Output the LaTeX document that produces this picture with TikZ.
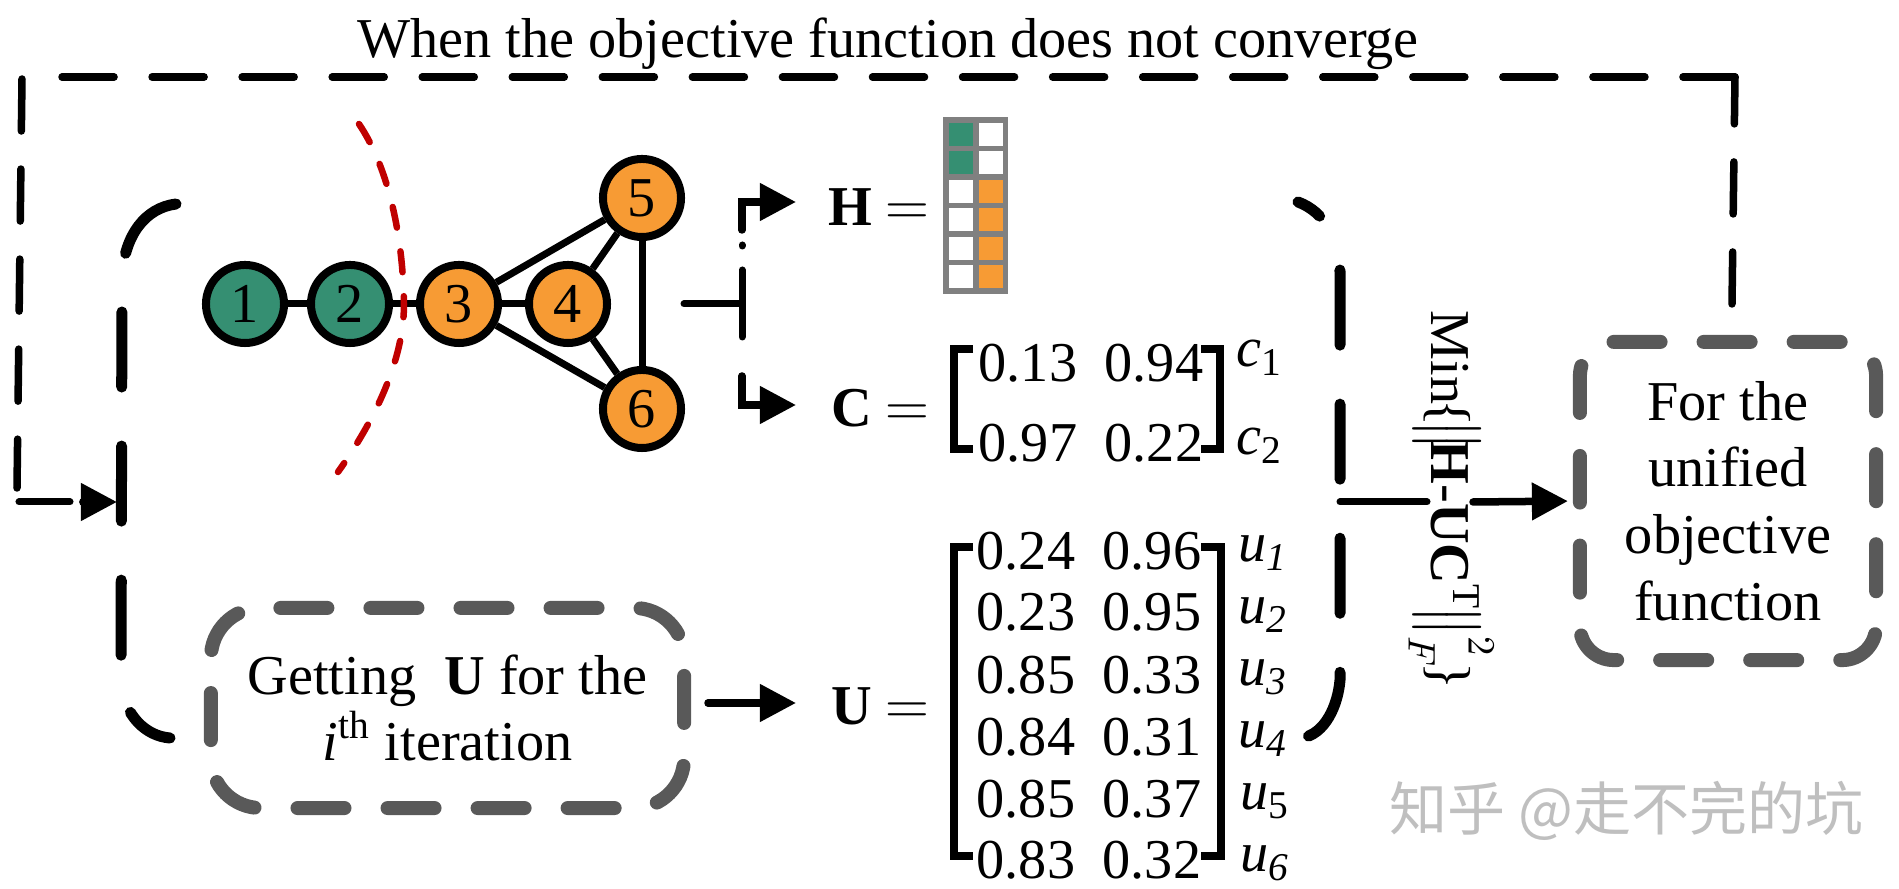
\documentclass[tikz,border=0pt]{standalone}
\usepackage{xcolor}
\usepackage{amsmath,amsfonts,amssymb}
\usepackage{fontspec}
\setmainfont{Liberation Serif}
\newfontfamily\cjkfont{Noto Sans CJK SC}
\usetikzlibrary{arrows.meta}
\definecolor{nodegreen}{HTML}{358F72}
\definecolor{nodeorange}{HTML}{F79B34}
\definecolor{boxgray}{HTML}{595959}
\definecolor{cutred}{HTML}{C00000}
\tikzset{
  every node/.style={font=\fontsize{16}{19}\selectfont},
  vertexgreen/.style={circle, draw, line width=0.08cm, fill=nodegreen, minimum size=0.78cm, inner sep=0pt},
  vertexorange/.style={circle, draw, line width=0.08cm, fill=nodeorange, minimum size=0.78cm, inner sep=0pt},
  edgeline/.style={line width=0.07cm},
  solidarrow/.style={line width=0.075cm, line cap=round, -{Triangle[length=0.36cm, width=0.36cm]}},
  plainline/.style={line width=0.07cm, line cap=round},
  loopline/.style={line width=0.075cm, line cap=round, dash pattern=on 0.52cm off 0.38cm},
  bigline/.style={line width=0.11cm, line cap=round, dash pattern=on 0.75cm off 0.59cm},
  cutline/.style={line width=0.065cm, line cap=round, color=cutred, dash pattern=on 0.21cm off 0.24cm},
  grayblock/.style={align=center, inner sep=0pt, outer sep=0pt},
  grayline/.style={draw=boxgray, line width=0.14cm, line cap=round, dash pattern=on 0.47cm off 0.43cm},
  bracketline/.style={line width=0.075cm, line join=miter},
  hcell/.style={draw=gray, line width=0.055cm, minimum width=0.295cm, minimum height=0.285cm, inner sep=0pt, fill=white},
}
\begin{document}
\begin{tikzpicture}[x=0.01cm, y=-0.01cm]
  \useasboundingbox (0,0) rectangle (1899,889);

  % Define the vertices
  \node[vertexgreen] (v1) at (245,304) {1};
  \node[vertexgreen] (v2) at (350,304) {2};
  \node[vertexorange] (v3) at (459,304) {3};
  \node[vertexorange] (v4) at (568,304) {4};
  \node[vertexorange] (v5) at (642,198) {5};
  \node[vertexorange] (v6) at (642,409) {6};

  % Draw the edges
  \draw[edgeline] (v1) -- (v2);
  \draw[edgeline] (v2) -- (v3);
  \draw[edgeline] (v3) -- (v4);
  \draw[edgeline] (v3) -- (v5);
  \draw[edgeline] (v3) -- (v6);
  \draw[edgeline] (v4) -- (v5);
  \draw[edgeline] (v4) -- (v6);
  \draw[edgeline] (v5) -- (v6);

  % Draw the cut
  \draw[cutline] (359,124) .. controls (390,170) and (403,240) .. (404,304) .. controls (404,360) and (375,420) .. (338,472);

  % Title and labels
  \node (title) at (888,44) {When the objective function does not converge};
  \node[anchor=east] (heq) at (942,207) {\textbf{H} $=$};
  \node[anchor=east] (ceq) at (942,408) {\textbf{C} $=$};
  \node[anchor=east] (ueq) at (942,706) {\textbf{U} $=$};

  % H grid
  \node[hcell, fill=nodegreen] (h11) at (961,134.5) {};
  \node[hcell] (h12) at (990.5,134.5) {};
  \node[hcell, fill=nodegreen] (h21) at (961,163) {};
  \node[hcell] (h22) at (990.5,163) {};
  \node[hcell] (h31) at (961,191.5) {};
  \node[hcell, fill=nodeorange] (h32) at (990.5,191.5) {};
  \node[hcell] (h41) at (961,220) {};
  \node[hcell, fill=nodeorange] (h42) at (990.5,220) {};
  \node[hcell] (h51) at (961,248.5) {};
  \node[hcell, fill=nodeorange] (h52) at (990.5,248.5) {};
  \node[hcell] (h61) at (961,277) {};
  \node[hcell, fill=nodeorange] (h62) at (990.5,277) {};

  % C matrix
  \node (c11) at (1028,363) {0.13};
  \node (c12) at (1154,363) {0.94};
  \node (c21) at (1028,443) {0.97};
  \node (c22) at (1154,443) {0.22};
  \node (c1) at (1260,358) {\textit{c}\textsubscript{1}};
  \node (c2) at (1260,446) {\textit{c}\textsubscript{2}};
  \draw[bracketline] (973,349) -- (954,349) -- (954,449) -- (973,449);
  \draw[bracketline] (1201,349) -- (1220,349) -- (1220,449) -- (1201,449);

  % U matrix
  \node (u11) at (1026,551) {0.24};
  \node (u12) at (1152,551) {0.96};
  \node (u21) at (1026,612) {0.23};
  \node (u22) at (1152,612) {0.95};
  \node (u31) at (1026,675) {0.85};
  \node (u32) at (1152,675) {0.33};
  \node (u41) at (1026,737) {0.84};
  \node (u42) at (1152,737) {0.31};
  \node (u51) at (1026,799) {0.85};
  \node (u52) at (1152,799) {0.37};
  \node (u61) at (1026,860) {0.83};
  \node (u62) at (1152,860) {0.32};
  \node (u1) at (1263,553) {\textit{u}\textsubscript{\textit{1}}};
  \node (u2) at (1263,615) {\textit{u}\textsubscript{\textit{2}}};
  \node (u3) at (1263,677) {\textit{u}\textsubscript{\textit{3}}};
  \node (u4) at (1263,739) {\textit{u}\textsubscript{\textit{4}}};
  \node (u5) at (1265,801) {\textit{u}\textsubscript{5}};
  \node (u6) at (1265,863) {\textit{u}\textsubscript{\textit{6}}};
  \draw[bracketline] (973,547) -- (954,547) -- (954,856) -- (973,856);
  \draw[bracketline] (1201,547) -- (1221,547) -- (1221,856) -- (1201,856);

  % Gray boxes
  \node[grayblock, minimum width=4.73cm, minimum height=2.0cm] (getu) at (447.5,708) {Getting \ \textbf{U} for the\\\textit{i}\textsuperscript{th} iteration};
  \node[grayblock, minimum width=2.96cm, minimum height=3.18cm] (unified) at (1728,501) {For the\\unified\\objective\\function};
  \draw[grayline, rounded corners=0.5cm, dash phase=0.82cm] (getu.west) -- (getu.north west) -- (getu.north east) -- (getu.south east) -- (getu.south west) -- cycle;
  \draw[grayline, rounded corners=0.34cm, dash phase=0.36cm] (unified.west) -- (unified.north west) -- (unified.north east) -- (unified.south east) -- (unified.south west) -- cycle;

  % Objective
  \node[rotate=-90, inner sep=0pt] (objective) at (1451,500) {Min\hspace{-0.05cm}\{\hspace{-0.07cm}$\big\|$\hspace{-0.1cm}\textbf{H}-\textbf{UC}\textsuperscript{T}\hspace{-0.05cm}$\big\|_{F}^{2}$\hspace{-0.06cm}\}};

  % Big dashed bracket on the left and on the right
  \draw[bigline] (176,204) .. controls (145,208) and (125,235) .. (122,275) -- (121,685) .. controls (125,715) and (145,736) .. (170,738);
  \draw[bigline, dash phase=0.49cm] (1298,202) .. controls (1325,212) and (1340,240) .. (1340,272) -- (1340,680) .. controls (1338,705) and (1325,735) .. (1301,738);

  % Coordinates of the connectors
  \coordinate (loopa) at (1732,304);
  \coordinate (loopb) at (1735,77);
  \coordinate (loopc) at (62,77);
  \coordinate (loopd) at (22,79);
  \coordinate (loope) at (17,488);
  \coordinate (loopf) at (19,502);
  \coordinate (loopg) at (70,502);
  \coordinate (looph) at (83,502);
  \coordinate (bigw) at (119,502);
  \coordinate (bige) at (1340,502);
  \coordinate (gapl) at (1427,502);
  \coordinate (gapr) at (1473,502);
  \coordinate (gout) at (684,304);
  \coordinate (split) at (742,304);
  \coordinate (upa) at (742,230);
  \coordinate (upb) at (742,202);
  \coordinate (hin) at (796,202);
  \coordinate (lowa) at (742,376);
  \coordinate (lowb) at (742,405);
  \coordinate (cin) at (796,405);
  \coordinate (dota) at (742,245);
  \coordinate (dotb) at (742,246);
  \coordinate (mida) at (742,270);
  \coordinate (midb) at (742,337);
  \coordinate (getr) at (708,703);
  \coordinate (uin) at (796,703);

  % Draw the connectors
  \draw[loopline] (loopa) -- (loopb);
  \draw[loopline] (loopb) -- (loopc);
  \draw[loopline] (loopd) -- (loope);
  \draw[plainline] (loopf) -- (loopg);
  \draw[solidarrow, shorten >=0.02cm] (looph) -- (bigw);
  \draw[plainline] (gout) -- (split);
  \draw[plainline] (mida) -- (midb);
  \draw[plainline] (dota) -- (dotb);
  \draw[solidarrow] (upa) -- (upb) -- (hin);
  \draw[solidarrow] (lowa) -- (lowb) -- (cin);
  \draw[solidarrow] (getr) -- (uin);
  \draw[plainline] (bige) -- (gapl);
  \draw[solidarrow, shorten >=0.12cm] (gapr) -- (unified.west);

  % Watermark
  \node[anchor=west, text=black!25, inner sep=0pt] (mark) at (1389,811) {\cjkfont\fontsize{16.5}{17}\selectfont 知乎 @走不完的坑};
\end{tikzpicture}
\end{document}
